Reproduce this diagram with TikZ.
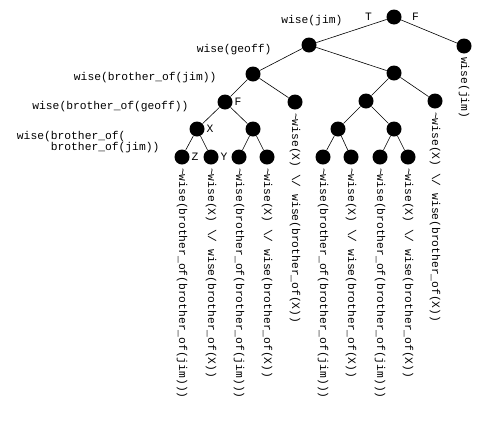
\documentclass[tikz,border=0pt]{standalone}
\usepackage{fontspec}
\setmainfont{Liberation Mono}
\usepackage{tikz}
\usetikzlibrary{positioning}

\begin{document}
\begin{tikzpicture}[x=1pt,y=-1pt,line width=0.6pt,
    every node/.style={font=\fontsize{11.3}{11}\selectfont},
    dot/.style={circle,fill=black,inner sep=0pt,minimum size=15pt},
    leaf/.style={rotate=-90,anchor=west,inner sep=0pt},
    tag/.style={inner sep=0pt}]
    \useasboundingbox (0,0) rectangle (486,421);

    % Tree nodes: t = true branch (left), f = false branch (right)
    \node[dot] (r) at (394,17) {};
    \node[dot] (t) at (309,45) {};
    \node[dot] (f) at (464,46) {};
    \node[dot] (tt) at (253,74) {};
    \node[dot] (tf) at (394,73) {};
    \node[dot] (ttt) at (225,102) {};
    \node[dot] (ttf) at (295,102) {};
    \node[dot] (tft) at (366,101) {};
    \node[dot] (tff) at (435,101) {};
    \node[dot] (tttt) at (197,129) {};
    \node[dot] (tttf) at (253,129) {};
    \node[dot] (tftt) at (338,129) {};
    \node[dot] (tftf) at (394,129) {};
    \node[dot] (ttttt) at (182,157) {};
    \node[dot] (ttttf) at (211,157) {};
    \node[dot] (tttft) at (239,157) {};
    \node[dot] (tttff) at (267,157) {};
    \node[dot] (tfttt) at (323,157) {};
    \node[dot] (tfttf) at (351,157) {};
    \node[dot] (tftft) at (380,157) {};
    \node[dot] (tftff) at (408,157) {};

    % Branches
    \draw (r) -- (t);
    \draw (r) -- (f);
    \draw (t) -- (tt);
    \draw (t) -- (tf);
    \draw (tt) -- (ttt);
    \draw (tt) -- (ttf);
    \draw (tf) -- (tft);
    \draw (tf) -- (tff);
    \draw (ttt) -- (tttt);
    \draw (ttt) -- (tttf);
    \draw (tft) -- (tftt);
    \draw (tft) -- (tftf);
    \draw (tttt) -- (ttttt);
    \draw (tttt) -- (ttttf);
    \draw (tttf) -- (tttft);
    \draw (tttf) -- (tttff);
    \draw (tftt) -- (tfttt);
    \draw (tftt) -- (tfttf);
    \draw (tftf) -- (tftft);
    \draw (tftf) -- (tftff);

    % Atoms split on at each level
    \node[anchor=east] (lr) at (346,21) {wise(jim)};
    \node[anchor=east] (lt) at (275,50) {wise(geoff)};
    \node[anchor=east] (ltt) at (220,78) {wise(brother\_of(jim))};
    \node[anchor=east] (lttt) at (192,107) {wise(brother\_of(geoff))};
    \node[anchor=east,align=left] (ltttt) at (163,142.5)
        {wise(brother\_of(\\\phantom{wise(}brother\_of(jim))};

    % Branch tags
    \node[tag,left=14pt of r] (rt) {T};
    \node[tag,right=10pt of r] (rf) {F};
    \node[tag,right=1.5pt of ttt] (tttl) {F};
    \node[tag,right=1.5pt of tttt] (ttttl) {X};
    \node[tag,right=1.5pt of ttttt] (tttttl) {Z};
    \node[tag,right=1.5pt of ttttf] (ttttfl) {Y};

    % Leaf clauses
    \node[leaf] (cf) at ([yshift=-3pt]f.south) {wise(jim)};
    \node[leaf] (cttf) at ([yshift=-3pt]ttf.south) {\textasciitilde wise(X) \textbackslash/ wise(brother\_of(X))};
    \node[leaf] (ctff) at ([yshift=-3pt]tff.south) {\textasciitilde wise(X) \textbackslash/ wise(brother\_of(X))};
    \node[leaf] (cttttt) at ([yshift=-3pt]ttttt.south) {\textasciitilde wise(brother\_of(brother\_of(jim)))};
    \node[leaf] (cttttf) at ([yshift=-3pt]ttttf.south) {\textasciitilde wise(X) \textbackslash/ wise(brother\_of(X))};
    \node[leaf] (ctttft) at ([yshift=-3pt]tttft.south) {\textasciitilde wise(brother\_of(brother\_of(jim)))};
    \node[leaf] (ctttff) at ([yshift=-3pt]tttff.south) {\textasciitilde wise(X) \textbackslash/ wise(brother\_of(X))};
    \node[leaf] (ctfttt) at ([yshift=-3pt]tfttt.south) {\textasciitilde wise(brother\_of(brother\_of(jim)))};
    \node[leaf] (ctfttf) at ([yshift=-3pt]tfttf.south) {\textasciitilde wise(X) \textbackslash/ wise(brother\_of(X))};
    \node[leaf] (ctftft) at ([yshift=-3pt]tftft.south) {\textasciitilde wise(brother\_of(brother\_of(jim)))};
    \node[leaf] (ctftff) at ([yshift=-3pt]tftff.south) {\textasciitilde wise(X) \textbackslash/ wise(brother\_of(X))};
\end{tikzpicture}
\end{document}
